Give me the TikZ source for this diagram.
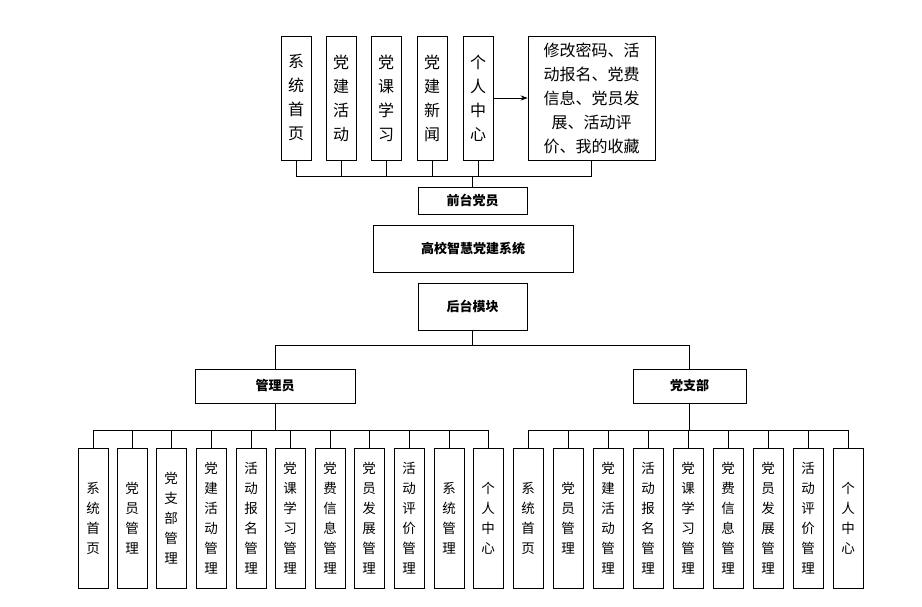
\documentclass[tikz,border=0pt]{standalone}
\usepackage{fontspec}
\setmainfont{Noto Sans CJK SC}
\usetikzlibrary{arrows.meta}
\begin{document}
\begin{tikzpicture}[x=1pt,y=-1pt,
  box/.style={draw,line width=0.8pt,inner sep=0pt},
  topv/.style={box,minimum width=30pt,minimum height=124pt,font=\fontsize{16}{24}\selectfont,align=center},
  botv/.style={box,minimum width=30pt,minimum height=140pt,font=\fontsize{13.5}{20}\selectfont,align=center},
  hb/.style={box,font=\fontsize{13}{16}\selectfont\bfseries},
  ln/.style={line width=0.8pt}]
\useasboundingbox (0,0) rectangle (922,607);
% top
\foreach \n/\x/\t in {t1/296/{系\\统\\首\\页},t2/341/{党\\建\\活\\动},t3/386/{党\\课\\学\\习},t4/432/{党\\建\\新\\闻},t5/478/{个\\人\\中\\心}}
  \node[topv] (\n) at (\x,98) {\t};
\node[box,minimum width=127pt,minimum height=124pt,font=\fontsize{16}{24}\selectfont,align=center] (t6) at (591.5,98) {修改密码、活\\动报名、党费\\信息、党员发\\展、活动评\\价、我的收藏};
\draw[ln,-{Stealth[length=7pt]}] (t5.east) -- (t6.west);
\node[hb,minimum width=109pt,minimum height=27pt] (qt) at (472.5,200.5) {前台党员};
\node[hb,minimum width=200pt,minimum height=47pt] (sys) at (473,248.5) {高校智慧党建系统};
\node[hb,minimum width=109pt,minimum height=47pt] (ht) at (472.5,306.5) {后台模块};
\coordinate (tb) at (472.5,176);
\foreach \n in {t1,t2,t3,t4,t5,t6} \draw[ln] (\n.south) -- (\n.south |- tb);
\draw[ln] (t1.south |- tb) -- (t6.south |- tb);
\draw[ln] (tb) -- (qt.north);
\node[hb,minimum width=160pt,minimum height=34pt] (gly) at (275,386) {管理员};
\node[hb,minimum width=113pt,minimum height=34pt] (dzb) at (689.5,386) {党支部};
\coordinate (mb) at (472.5,345);
\draw[ln] (ht.south) -- (mb);
\draw[ln] (gly.north) -- (gly.north |- mb) -- (dzb.north |- mb) -- (dzb.north);
% bottom left
\coordinate (lb) at (275,430);
\foreach \n/\x/\t in {a1/93/{系\\统\\首\\页},a2/132/{党\\员\\管\\理},a3/171/{党\\支\\部\\管\\理},a4/211/{党\\建\\活\\动\\管\\理},a5/251/{活\\动\\报\\名\\管\\理},a6/290/{党\\课\\学\\习\\管\\理},a7/330/{党\\费\\信\\息\\管\\理},a8/369/{党\\员\\发\\展\\管\\理},a9/409/{活\\动\\评\\价\\管\\理},a10/449/{系\\统\\管\\理},a11/488/{个\\人\\中\\心}}
  {\node[botv] (\n) at (\x,518) {\t};
   \draw[ln] (\n.north) -- (\n.north |- lb);}
\draw[ln] (a1.north |- lb) -- (a11.north |- lb);
\draw[ln] (gly.south) -- (lb);
% bottom right
\coordinate (rb) at (689.5,430);
\foreach \n/\x/\t in {b1/528/{系\\统\\首\\页},b2/568/{党\\员\\管\\理},b3/608/{党\\建\\活\\动\\管\\理},b4/648/{活\\动\\报\\名\\管\\理},b5/688/{党\\课\\学\\习\\管\\理},b6/728/{党\\费\\信\\息\\管\\理},b7/768/{党\\员\\发\\展\\管\\理},b8/808/{活\\动\\评\\价\\管\\理},b9/848/{个\\人\\中\\心}}
  {\node[botv] (\n) at (\x,518) {\t};
   \draw[ln] (\n.north) -- (\n.north |- rb);}
\draw[ln] (b1.north |- rb) -- (b9.north |- rb);
\draw[ln] (dzb.south) -- (rb);
\end{tikzpicture}
\end{document}
